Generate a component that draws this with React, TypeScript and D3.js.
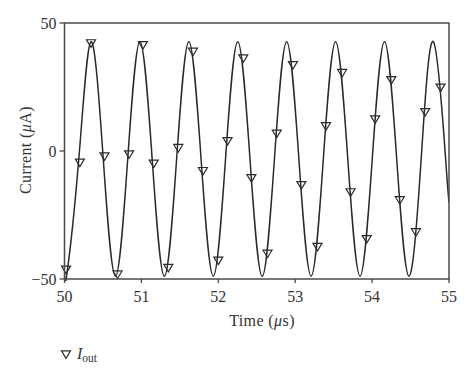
import React from "react";
import * as d3 from "d3";

const curveTime = [
  50.0, 50.027, 50.186, 50.345, 50.504, 50.663, 50.822, 50.981, 51.14, 51.299,
  51.458, 51.617, 51.776, 51.935, 52.094, 52.253, 52.412, 52.571, 52.73, 52.889,
  53.048, 53.207, 53.366, 53.525, 53.684, 53.843, 54.002, 54.161, 54.32, 54.479,
  54.638, 54.797, 54.956, 55.0,
];
const curveValue = [
  -47.3, -48.9, -3.1, 42.7, -3.1, -48.9, -3.1, 42.7, -3.1, -48.9,
  -3.1, 42.7, -3.1, -48.9, -3.1, 42.7, -3.1, -48.9, -3.1, 42.7,
  -3.1, -48.9, -3.1, 42.7, -3.1, -48.9, -3.1, 42.7, -3.1, -48.9,
  -3.1, 42.7, -3.1, -20.0,
];

// I_out markers
const markerTime = [
  50.02, 50.2, 50.345, 50.52, 50.69, 50.84, 51.02, 51.16, 51.35, 51.48,
  51.67, 51.8, 52.0, 52.12, 52.325, 52.43, 52.64, 52.76, 52.97, 53.08,
  53.29, 53.4, 53.61, 53.72, 53.93, 54.04, 54.25, 54.36, 54.57, 54.69, 54.89,
];
const markerValue = [
  -46.2, -4.4, 42.2, -2.0, -48.1, -1.2, 41.5, -4.8, -45.5, 1.3,
  38.9, -7.7, -42.7, 4.0, 36.3, -10.5, -40.0, 6.9, 33.7, -13.2,
  -37.3, 9.8, 30.6, -16.0, -34.3, 12.5, 27.8, -19.1, -31.6, 15.3, 24.9,
];

const xTicks = [50, 51, 52, 53, 54, 55];
const yTicks = [-50, 0, 50];

const W = 474;
const H = 382;
const margin = { left: 64.5, right: 25, top: 23, bottom: 103 };
const FONT = "'Liberation Serif', 'Times New Roman', serif";
const AXIS = "#4a4a4a";
const INK = "#2a2a2a";
const TXT = "#333";

export default function App() {
  const x = d3.scaleLinear().domain([50, 55]).range([margin.left, W - margin.right]);
  const y = d3.scaleLinear().domain([-50, 50]).range([H - margin.bottom, margin.top]);

  const pts = curveTime.map((t, i) => [t, curveValue[i]] as [number, number]);
  const line = d3
    .line<[number, number]>()
    .x((d) => x(d[0]))
    .y((d) => y(d[1]))
    .curve(d3.curveNatural);

  const tri = "M-4.5,-3.2 L4.5,-3.2 L0,4.3 Z";

  const x0 = x(50), x1 = x(55), y0 = y(-50), y1 = y(50);

  return (
    <svg
      width={W}
      height={H}
      style={{ position: "absolute", left: 0, top: 0, background: "#fff" }}
      fontFamily={FONT}
    >
      <rect x={0} y={0} width={W} height={H} fill="#fff" />
      <defs>
        <clipPath id="plot">
          <rect x={x0} y={y1 - 2} width={x1 - x0} height={y0 - y1 + 4} />
        </clipPath>
      </defs>

      {/* markers */}
      {markerTime.map((t, i) => (
        <path
          key={i}
          d={tri}
          transform={`translate(${x(t)},${y(markerValue[i])})`}
          fill="none"
          stroke={INK}
          strokeWidth={1.2}
        />
      ))}

      {/* curve */}
      <path
        d={line(pts) || ""}
        fill="none"
        stroke={INK}
        strokeWidth={1.5}
        clipPath="url(#plot)"
      />

      {/* frame */}
      <rect x={x0} y={y1} width={x1 - x0} height={y0 - y1} fill="none" stroke={AXIS} strokeWidth={1.5} />

      {/* y ticks */}
      {yTicks.map((v) => (
        <g key={v}>
          <line x1={x0 - 5} x2={x0} y1={y(v)} y2={y(v)} stroke={AXIS} strokeWidth={1.3} />
          <text
            x={x0 - 8}
            y={y(v)}
            dy="0.35em"
            textAnchor="end"
            fontSize={16}
            fill={TXT}
          >
            {v < 0 ? "\u2212" + Math.abs(v) : v}
          </text>
        </g>
      ))}

      {/* x ticks */}
      {xTicks.map((v) => (
        <g key={v}>
          <line x1={x(v)} x2={x(v)} y1={y0} y2={y0 + 4} stroke={AXIS} strokeWidth={1.3} />
          <text x={x(v)} y={y0 + 23} textAnchor="middle" fontSize={16} fill={TXT}>
            {v}
          </text>
        </g>
      ))}

      {/* axis titles */}
      <text x={262} y={326} textAnchor="middle" fontSize={16} fill={TXT} letterSpacing={0.4}>
        Time (<tspan fontStyle="italic">μ</tspan>s)
      </text>
      <text
        transform={`translate(31,150) rotate(-90)`}
        textAnchor="middle"
        fontSize={16}
        fill={TXT}
        letterSpacing={0.4}
      >
        Current (<tspan fontStyle="italic">μ</tspan>A)
      </text>

      {/* legend */}
      <path d={tri} transform="translate(66,354)" fill="none" stroke={INK} strokeWidth={1.2} />
      <text x={77} y={359} fontSize={16} fill={TXT}>
        <tspan fontStyle="italic">I</tspan>
        <tspan fontSize={11.5} dy={3}>out</tspan>
      </text>
    </svg>
  );
}
